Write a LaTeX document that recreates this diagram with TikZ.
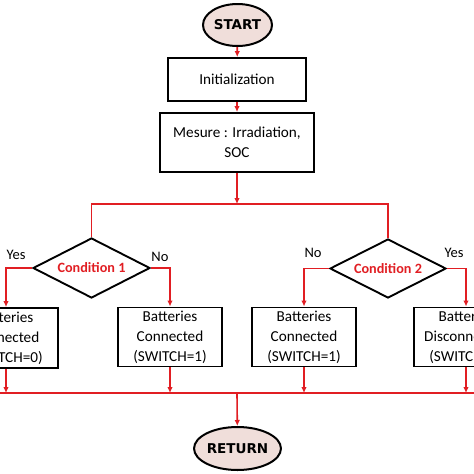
\documentclass[tikz,border=0pt]{standalone}
\usepackage{fontspec}
\setmainfont{Carlito}
\newfontfamily\heavyfont{DejaVu Sans}
\usetikzlibrary{arrows.meta,shapes.geometric}
\definecolor{flowred}{RGB}{225,30,35}
\definecolor{termfill}{RGB}{240,222,218}
\tikzset{
  flow/.style={draw=flowred,line width=1.6pt},
  flowarrow/.style={flow,-{Latex[length=6pt,width=5.5pt]}},
  procbox/.style={draw=black,line width=1.9pt,fill=white,rectangle,inner sep=0pt,align=center,
    font=\fontsize{15.2}{20}\selectfont},
  termbox/.style={draw=black,line width=2pt,fill=termfill,ellipse,inner sep=0pt,
    font=\heavyfont\bfseries\fontsize{13.5}{16}\selectfont},
  decbox/.style={draw=black,line width=1.9pt,fill=white,diamond,aspect=1.95,inner sep=0pt,
    text=flowred,font=\bfseries\fontsize{14.2}{16}\selectfont},
  lbl/.style={font=\fontsize{14.5}{16}\selectfont,inner sep=0pt}
}
\begin{document}
\begin{tikzpicture}[x=1pt,y=-1pt]
\useasboundingbox (0,0) rectangle (474,474);
\clip (0,0) rectangle (474,474);
\fill[white] (0,0) rectangle (474,474);

\node[termbox,minimum width=69pt,minimum height=42pt] (start) at (237.5,25) {START};
\node[procbox,minimum width=138pt,minimum height=43pt] (init) at (237,79.5) {Initialization};
\node[procbox,minimum width=154pt,minimum height=59pt] (mes) at (237,142.5) {Mesure : Irradiation,\\SOC};
\coordinate (j1) at (237,204);

\node[decbox,minimum width=117pt,minimum height=60pt] (c1) at (91.5,268) {Condition 1};
\node[decbox,minimum width=116pt,minimum height=59pt] (c2) at (388,268.5) {Condition 2};

\node[procbox,minimum width=104pt,minimum height=60pt] (b1) at (6,338) {Batteries\\Connected\\(SWITCH=0)};
\node[procbox,minimum width=104pt,minimum height=59pt] (b2) at (170,337) {Batteries\\Connected\\(SWITCH=1)};
\node[procbox,minimum width=104pt,minimum height=59pt] (b3) at (304,337) {Batteries\\Connected\\(SWITCH=1)};
\node[procbox,minimum width=104pt,minimum height=59pt] (b4) at (466,337) {Batteries\\Disconnected\\(SWITCH=0)};

\coordinate (j2) at (237,393);
\coordinate (jl) at (-10,393);
\coordinate (jr) at (484,393);

\node[termbox,minimum width=85pt,minimum height=43pt] (ret) at (237.5,448.5) {RETURN};

\node[lbl] (y1) at (16,255) {Yes};
\node[lbl] (n1) at (160,257) {No};
\node[lbl] (n2) at (313,253) {No};
\node[lbl] (y2) at (454,253) {Yes};

\draw[flowarrow] (start) -- (init);
\draw[flowarrow] (init) -- (mes);
\draw[flowarrow] (mes) -- (j1);
\draw[flow] (c1.north) -- (c1.north |- j1) -- (c2.north |- j1) -- (c2.north);

\draw[flowarrow] (c1.west) -| (b1.north);
\draw[flowarrow] (c1.east) -| (b2.north);
\draw[flowarrow] (c2.west) -| (b3.north);
\draw[flowarrow] (c2.east) -| (b4.north);

\draw[flow] (jl) -- (jr);
\draw[flowarrow] (b1.south) -- (b1.south |- j2);
\draw[flowarrow] (b2.south) -- (b2.south |- j2);
\draw[flowarrow] (b3.south) -- (b3.south |- j2);
\draw[flowarrow] (b4.south) -- (b4.south |- j2);
\draw[flowarrow] (j2) -- (ret);
\end{tikzpicture}
\end{document}
